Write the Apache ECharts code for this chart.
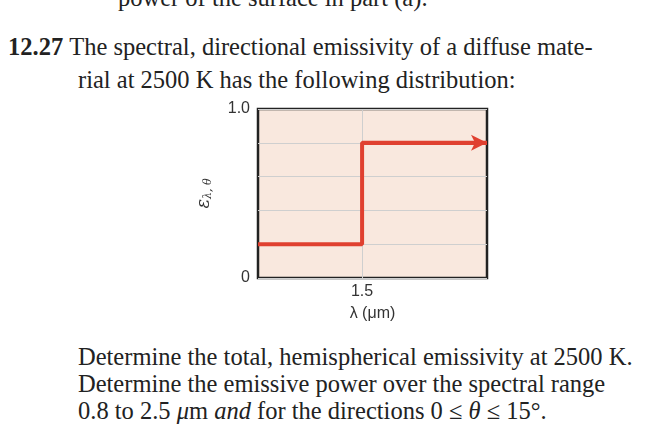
<!DOCTYPE html>
<html><head><meta charset="utf-8">
<script src="https://cdn.jsdelivr.net/npm/echarts@6/dist/echarts.min.js"></script>
<style>
body{margin:0;width:654px;height:426px;overflow:hidden;background:#fff;font-family:"Liberation Serif","Times New Roman",serif;color:#222}
.t{position:absolute;font-size:24.5px;white-space:nowrap;line-height:27px}
#c{position:absolute;left:0;top:0;width:654px;height:426px}
</style></head><body>
<div class="t" style="left:118px;top:-16px">power of the surface in part (a).</div>
<div class="t" style="left:8px;top:33px"><b>12.27</b>&nbsp;The spectral, directional emissivity of a diffuse mate-</div>
<div class="t" style="left:78px;top:66px">rial at 2500 K has the following distribution:</div>
<div class="t" style="left:78px;top:343px">Determine the total, hemispherical emissivity at 2500 K.</div>
<div class="t" style="left:78px;top:370px">Determine the emissive power over the spectral range</div>
<div class="t" style="left:78px;top:397px">0.8 to 2.5 <i>μ</i>m <i>and</i> for the directions 0 ≤ <i>θ</i> ≤ 15°.</div>
<div id="c"></div>
<script>
const lambda = [0, 1.5, 1.5, 3.3];
const emissivity = [0.2, 0.2, 0.8, 0.8];
const yTicks = ['0', '1.0'];
const xTick = 1.5;
const chart = echarts.init(document.getElementById('c'));
const font = '"Liberation Sans", Arial, sans-serif';
const n = lambda.length;
chart.setOption({
  animation:false,
  grid:{left:258,top:109,width:229,height:169,backgroundColor:'#f9e8de',show:true,borderColor:'#222',borderWidth:2.5},
  xAxis:{type:'value',min:0,max:3.3,interval:1.5,
    axisLine:{show:false},axisTick:{show:false},splitLine:{show:false},
    axisLabel:{color:'#333',fontFamily:font,fontSize:16,margin:6,
      formatter:v=>v===xTick?String(xTick):''},
    name:'λ (μm)',nameLocation:'middle',nameGap:28,nameTextStyle:{color:'#333',fontFamily:font,fontSize:16}},
  yAxis:{type:'value',min:0,max:1,interval:0.2,
    axisLine:{show:false},axisTick:{show:false},
    splitLine:{show:true,lineStyle:{color:'#cfcfcf',width:1}},
    axisLabel:{color:'#333',fontFamily:font,fontSize:16,margin:8,
      formatter:v=>v===0?yTicks[0]:(v===1?yTicks[1]:'')},
    name:'{e|ε}{s|λ, θ}',nameLocation:'middle',nameGap:44,nameRotate:90,
    nameTextStyle:{rich:{e:{fontFamily:'"DejaVu Serif", serif',fontSize:18,fontStyle:'italic',color:'#333'},
      s:{fontFamily:'"DejaVu Serif", serif',fontSize:11,fontStyle:'italic',color:'#333',verticalAlign:'bottom',padding:[8,0,0,0]}}}},
  series:[{type:'line',z:3,data:lambda.map((x,i)=>[x,emissivity[i]]),showSymbol:false,
    lineStyle:{color:'#e04030',width:4},itemStyle:{color:'#e04030'},
    markLine:{silent:true,z:1,label:{show:false},animation:false,data:[
      [{coord:[xTick,0],symbol:'none',lineStyle:{color:'#cfcfcf',width:1,type:'solid'}},
       {coord:[xTick,1],symbol:'none'}],
      [{coord:[lambda[n-2],emissivity[n-1]],symbol:'none',lineStyle:{color:'#e04030',width:4,type:'solid'}},
       {coord:[lambda[n-1],emissivity[n-1]],symbol:'arrow',symbolSize:[12,16]}]
    ]}}]
});
</script></body></html>
